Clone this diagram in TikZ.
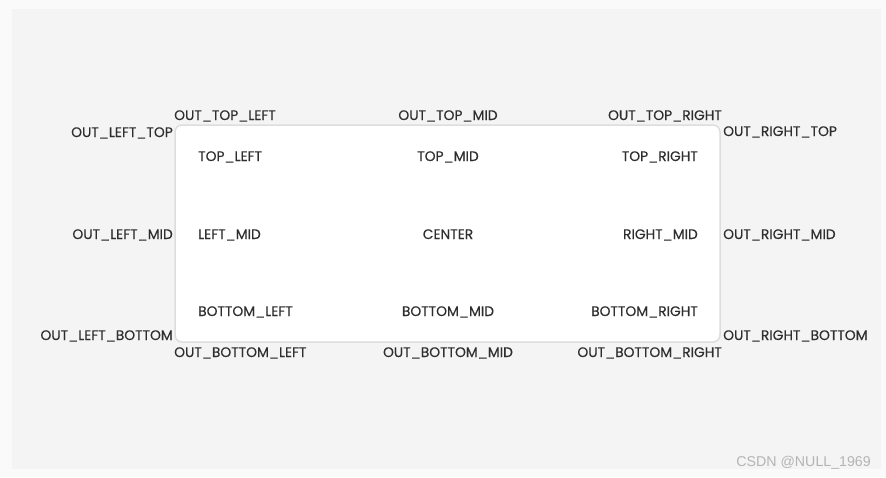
\documentclass[tikz,border=0pt]{standalone}
\usepackage{fontspec}
\setmainfont{Poppins}
\newfontfamily\lblfont{Poppins}[FakeBold=0.35]
\newfontfamily\wmfont{Liberation Sans}
\definecolor{pagebg}{HTML}{FAFAFA}
\definecolor{panelbg}{HTML}{F4F4F4}
\definecolor{boxline}{HTML}{DDDDDD}
\definecolor{txt}{HTML}{2E2E2E}
\definecolor{wm}{HTML}{B4B4B4}
\tikzset{
  lbl/.style={inner sep=0pt, text=txt, font=\lblfont\fontsize{13.8}{16}\selectfont},
  wmark/.style={inner sep=0pt, text=wm, font=\wmfont\fontsize{14.2}{16}\selectfont},
}
\begin{document}
\begin{tikzpicture}[x=1pt,y=-1pt]
\useasboundingbox (0,0) rectangle (886,477);
\fill[pagebg] (0,0) rectangle (886,477);
\fill[panelbg] (12,9) rectangle (881,469);
\draw[boxline, line width=1.5pt, fill=white, rounded corners=7pt] (175,125) rectangle (720,342);
% outside top
\node[lbl, anchor=base west] (otl) at (174,120) {OUT\_TOP\_LEFT};
\node[lbl, anchor=base] (otm) at (448,120) {OUT\_TOP\_MID};
\node[lbl, anchor=base east] (otr) at (722,120) {OUT\_TOP\_RIGHT};
% outside left
\node[lbl, anchor=base east] (olt) at (173,137) {OUT\_LEFT\_TOP};
\node[lbl, anchor=base east] (olm) at (173,239) {OUT\_LEFT\_MID};
\node[lbl, anchor=base east] (olb) at (173,340) {OUT\_LEFT\_BOTTOM};
% outside right
\node[lbl, anchor=base west] (ort) at (723,136) {OUT\_RIGHT\_TOP};
\node[lbl, anchor=base west] (orm) at (723,239) {OUT\_RIGHT\_MID};
\node[lbl, anchor=base west] (orb) at (723,340) {OUT\_RIGHT\_BOTTOM};
% outside bottom
\node[lbl, anchor=base west] (obl) at (174,357) {OUT\_BOTTOM\_LEFT};
\node[lbl, anchor=base] (obm) at (448,357) {OUT\_BOTTOM\_MID};
\node[lbl, anchor=base east] (obr) at (722,357) {OUT\_BOTTOM\_RIGHT};
% inside
\node[lbl, anchor=base west] (tl) at (198,161) {TOP\_LEFT};
\node[lbl, anchor=base] (tm) at (448,161) {TOP\_MID};
\node[lbl, anchor=base east] (tr) at (698,161) {TOP\_RIGHT};
\node[lbl, anchor=base west] (lm) at (198,239) {LEFT\_MID};
\node[lbl, anchor=base] (cc) at (448,239) {CENTER};
\node[lbl, anchor=base east] (rm) at (698,239) {RIGHT\_MID};
\node[lbl, anchor=base west] (bl) at (198,316) {BOTTOM\_LEFT};
\node[lbl, anchor=base] (bm) at (448,316) {BOTTOM\_MID};
\node[lbl, anchor=base east] (br) at (698,316) {BOTTOM\_RIGHT};
% watermark
\node[wmark, anchor=base east] (wmk) at (871,466) {CSDN @NULL\_1969};
\end{tikzpicture}
\end{document}
